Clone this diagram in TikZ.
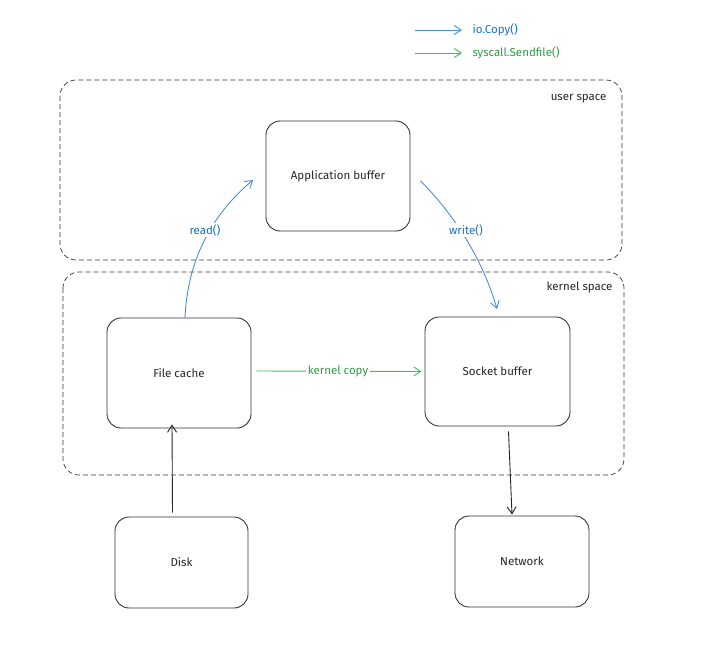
\documentclass[tikz,border=0pt]{standalone}
\usepackage{fontspec}
\setmainfont{Fira Sans}
\usetikzlibrary{arrows.meta,calc}
\definecolor{bl}{HTML}{1971C2}
\definecolor{bla}{HTML}{4A90D9}
\definecolor{gr}{HTML}{2F9E44}
\definecolor{gra}{HTML}{40C057}
\begin{document}
\begin{tikzpicture}[x=1pt,y=-1pt,
 box/.style={draw=black!80,line width=0.9pt,rounded corners=14pt},
 zone/.style={draw=black!80,dash pattern=on 5pt off 3pt,line width=0.7pt,rounded corners=16pt},
 lbl/.style={font=\fontsize{11.5}{13}\selectfont,text=black!85},
 arr/.style={-{Straight Barb[length=7pt,width=9pt]},line width=0.9pt}]
\useasboundingbox[fill=white] (0,0) rectangle (712,661);
% legend
\coordinate (l1a) at (415,30); \coordinate (l1b) at (462,30);
\coordinate (l2a) at (415,53); \coordinate (l2b) at (462,53);
\draw[arr,bla] (l1a) -- (l1b);
\draw[arr,gra] (l2a) -- (l2b);
\node[lbl,text=bl,anchor=west] (t1) at (469,30) {io.Copy()};
\node[lbl,text=gr,anchor=west] (t2) at (469,53) {syscall.Sendfile()};
% zones
\draw[zone] (60,80) rectangle (622,260);
\node[lbl,anchor=east] (us) at (610,99) {user space};
\draw[zone] (63,272) rectangle (624,475);
\node[lbl,anchor=east] (ks) at (616,287) {kernel space};
% boxes
\node[box,minimum width=144pt,minimum height=110pt,lbl] (app) at (338,176) {Application buffer};
\node[box,minimum width=144pt,minimum height=110pt,lbl] (fc) at (179,373) {File cache};
\node[box,minimum width=145pt,minimum height=109pt,lbl] (sb) at (497.5,371.5) {Socket buffer};
\node[box,minimum width=133pt,minimum height=91pt,lbl] (disk) at (181.5,562.5) {Disk};
\node[box,minimum width=134pt,minimum height=91pt,lbl] (net) at (522,561.5) {Network};
% connectors
\draw[arr,bla] ($(fc.north)+(6,0)$) .. controls (187,270) and (205,220) .. (253,180);
\node[lbl,text=bl,fill=white,inner sep=1pt] (rd) at (205,230) {read()};
\draw[arr,bla] ($(app.east)+(10,5)$) .. controls (445,205) and (480,250) .. (497,309);
\node[lbl,text=bl,fill=white,inner sep=1pt] (wr) at (466,230) {write()};
\draw[arr,gra] ($(fc.east)+(5,-2)$) -- ($(sb.west)+(-3,0)$);
\node[lbl,text=gr,fill=white,inner sep=2pt] (kc) at (338,371) {kernel copy};
\draw[arr,black!85] ($(disk.north)+(-9,-4)$) -- ($(fc.south)+(-7,-4)$);
\draw[arr,black!85] ($(sb.south)+(11,5)$) -- ($(net.north)+(-10,-1)$);
\end{tikzpicture}
\end{document}
